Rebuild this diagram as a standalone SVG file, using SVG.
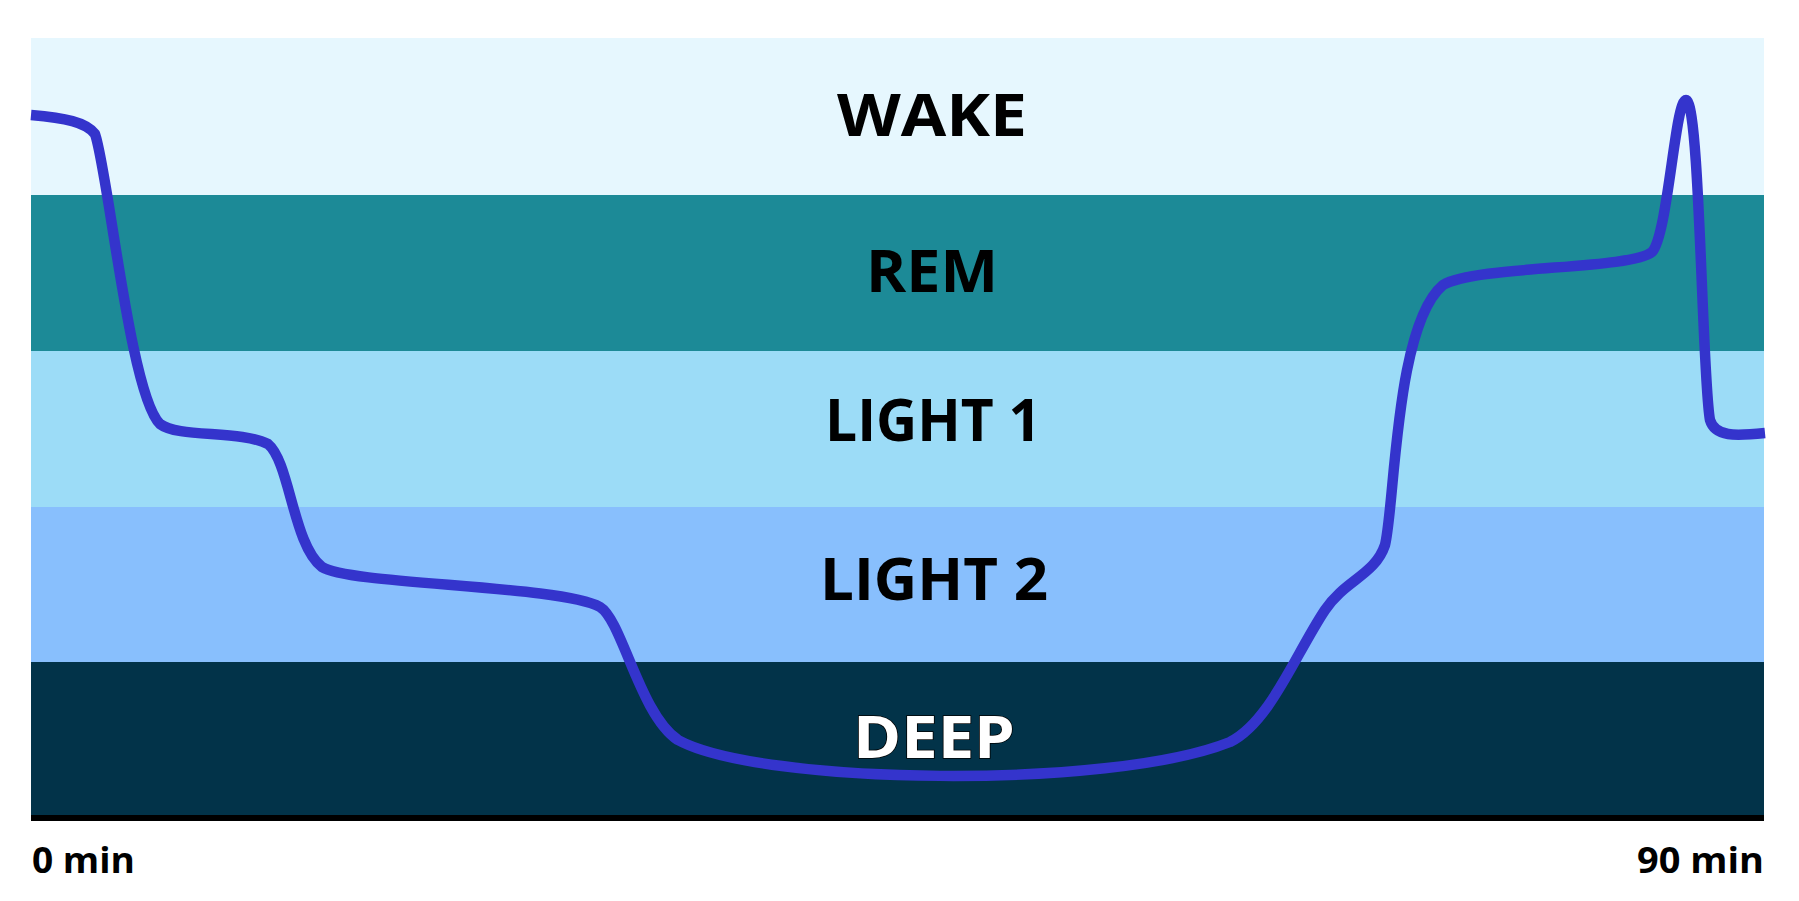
<svg xmlns="http://www.w3.org/2000/svg" width="1799" height="901" viewBox="0 0 1799 901">
<style>
.lbl{font-family:"Open Sans","DejaVu Sans",sans-serif;font-weight:700;font-size:59px;fill:#000}
.ax{font-family:"Open Sans","DejaVu Sans",sans-serif;font-weight:700;font-size:36px;fill:#000}
.deep{fill:#fff;stroke:#000;stroke-width:1.5;paint-order:stroke}
.curve{fill:none;stroke:#3434cc;stroke-width:10.5;stroke-linecap:butt;stroke-linejoin:round}
</style>
<rect width="1799" height="901" fill="#fff"/>
<g id="wake"><rect x="31" y="38" width="1733" height="157" fill="#e6f7fe"/><text class="lbl" x="837" y="136" textLength="190" lengthAdjust="spacingAndGlyphs">WAKE</text></g>
<g id="rem"><rect x="31" y="195" width="1733" height="156" fill="#1c8a97"/><text class="lbl" x="866" y="292" textLength="132" lengthAdjust="spacingAndGlyphs">REM</text></g>
<g id="light1"><rect x="31" y="351" width="1733" height="156" fill="#9cdcf7"/><text class="lbl" x="825" y="441" textLength="216" lengthAdjust="spacingAndGlyphs">LIGHT 1</text></g>
<g id="light2"><rect x="31" y="507" width="1733" height="155" fill="#88bffd"/><text class="lbl" x="820" y="600" textLength="228" lengthAdjust="spacingAndGlyphs">LIGHT 2</text></g>
<g id="deep"><rect x="31" y="662" width="1733" height="154" fill="#023349"/><text class="lbl deep" x="853" y="758" textLength="162" lengthAdjust="spacingAndGlyphs">DEEP</text></g>
<g id="axis"><rect x="31" y="815" width="1733" height="6" fill="#000"/>
<text class="ax" x="32" y="873" textLength="103" lengthAdjust="spacingAndGlyphs">0 min</text>
<text class="ax" x="1637" y="873" textLength="127" lengthAdjust="spacingAndGlyphs">90 min</text></g>
<g id="connectors">
<path class="curve" d="M31,115 C65,118 86,122 95,134 C108,170 130,395 160,424 C178,438 240,430 268,444 C290,462 293,545 322,567 C350,585 560,585 600,607 C622,620 640,715 678,740 C760,785 1110,790 1230,742 C1270,722 1295,655 1325,610 C1345,580 1375,575 1385,545 C1395,505 1395,325 1443,285 C1478,265 1630,270 1652,252 C1668,235 1675,100 1686,100 C1700,100 1702,380 1710,420 C1715,437 1735,436 1765,433"/>
</g>
</svg>
